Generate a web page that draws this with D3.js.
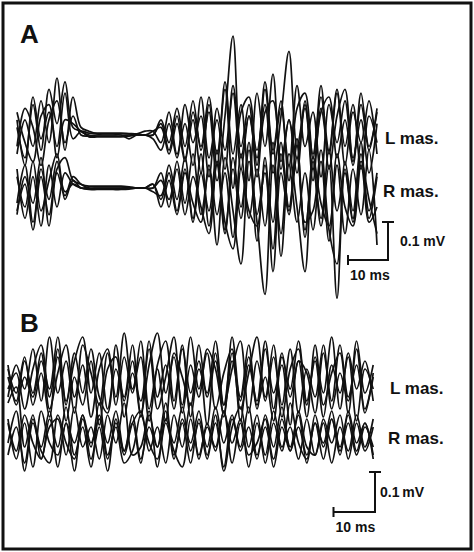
<!DOCTYPE html>
<html><head><meta charset="utf-8">
<script src="https://cdn.jsdelivr.net/npm/d3@7"></script>
<style>body{margin:0;background:#fff}text{font-family:"Liberation Sans",Arial,sans-serif;font-weight:bold;fill:#111}</style>
</head><body><svg id="c" width="474" height="552"></svg>
<script>
// values in 0.01 mV, sampled every 2 ms
const stepMs = 2;
const aL1=[2,-6,8,-4,12,3,14,2,1,-0.5,-0.5,-0.5,-0.5,-0.5,-0.3,0,0,0,3,-4,5,-6,4,-10,8,-5,12,-14,6,10,-8,14,-4,9,-12,7,11,-6,13,-9,5,12,-7,8,-3,6];
const aL2=[-5,4,-3,9,-2,15,-4,10,2,1,0.3,0.3,0.3,0.3,0.3,0.3,1,1,-2,6,-5,3,-8,10,-6,4,-9,13,-3,8,-11,6,9,-7,4,-10,8,-5,10,-4,12,-8,6,-2,9,-5];
const aL3=[6,-2,-7,5,8,-6,4,3,1,0,0,0,0,0,-1,0,0,0,4,-2,7,-3,9,-4,6,-12,5,26,-6,5,-4,8,-10,5,22,-3,7,-9,6,10,-6,4,-8,11,-4,7];
const aL4=[-3,7,2,-8,4,9,-2,5,0,-0.3,-0.3,-0.3,-0.3,-0.3,0,0,0,-1,-4,3,-6,8,-2,5,-11,7,-4,11,-9,5,-6,12,-5,7,-8,13,-3,6,-11,8,-2,9,-6,4,-10,3];
const aL5=[4,-8,10,-1,6,-3,11,-1,1,0.5,0.5,0.5,0.5,0.5,0.4,0.3,0,1,2,-5,3,-7,6,-3,10,-8,14,-5,8,-12,11,-3,16,-9,4,-6,9,-12,7,-5,11,-3,8,-9,5,-2];
const aR1=[-4,6,-9,3,-7,5,8,2,1,0.5,0.5,0.5,0.5,0.5,0.3,0,0,1,-3,4,-6,5,-8,9,-10,6,-12,8,-5,10,-14,6,-9,12,-6,8,-11,5,-8,10,-6,4,-9,7,-3,-12];
const aR2=[5,-8,3,-10,6,-5,4,1,0,-0.4,-0.4,-0.4,-0.4,-0.4,-0.3,0,0,0,4,-5,7,-4,9,-7,5,-15,8,-6,-20,7,-9,-28,6,-12,9,-5,-22,7,-10,6,-29,5,-8,9,-6,4];
const aR3=[-7,3,-4,8,-10,4,-2,3,1,0,0,0,0,0,0,0,0,-1,-2,6,-3,8,-9,4,-6,10,-11,5,-8,12,-7,4,-16,9,-5,11,-13,8,-4,-10,6,-12,5,-7,10,-15];
const aR4=[3,-5,7,-6,2,9,-3,2,0,0.3,0.3,0.3,0.3,0.3,0.2,0,0,1,-5,2,-7,4,-4,-9,6,-7,4,-13,9,-8,5,-10,12,-18,6,-9,4,-11,7,-14,9,-5,-10,6,-8,3];
const aR5=[-6,1,-11,5,-3,7,-1,1,0,-0.2,-0.2,-0.2,-0.2,-0.2,0,0,0,0,2,-3,5,-7,3,-5,-12,7,-9,-16,5,-6,-10,8,-22,4,-7,13,-9,-6,10,-11,-20,7,-6,12,-9,-5];
const bL1=[2,-4,6,-2,8,-6,3,10,-3,5,-8,4,9,-5,7,-2,11,-6,4,-9,8,2,-5,10,-3,6,-8,12,-4,7,-6,9,-2,5,-10,6,3,-7,8,-4,10,-3,5,-6,2];
const bL2=[-3,5,-1,9,-4,12,-2,6,-7,10,3,-5,8,-3,13,-1,7,-9,5,11,-4,9,-2,6,-10,8,-5,4,11,-7,6,-3,10,-8,4,9,-5,7,-2,12,-6,8,-1,6,-4];
const bL3=[4,-2,7,-5,3,-8,9,-4,6,12,-2,8,-6,4,-3,10,-7,5,13,-2,7,-5,12,-1,8,-6,3,9,-9,5,-4,11,-6,8,-3,6,-8,10,-5,3,8,-7,11,-2,5];
const bL4=[-1,3,-6,4,10,-3,7,-9,2,-5,6,-10,4,7,-8,3,-4,9,-6,2,12,-7,5,-3,9,4,-7,6,-3,10,-5,2,-9,7,-1,11,-4,6,-8,5,-2,7,-9,4,-1];
const bL5=[5,-5,2,-3,6,-1,12,-5,8,-2,9,-3,-7,10,-4,6,-8,11,-3,5,-6,10,-8,4,-2,11,-5,8,-6,3,12,-4,7,-5,9,-7,4,-3,10,-6,3,-4,9,-7,3];
const bR1=[3,-4,5,-2,-6,4,-3,7,-5,2,-8,5,-2,6,-4,3,-7,5,-3,8,-6,4,-2,6,-5,3,-8,4,-3,7,-5,2,-6,4,-3,5,-7,3,-2,6,-4,3,-5,2,-3];
const bR2=[-5,2,-7,4,-3,6,-8,3,-2,5,-6,2,-9,4,-5,3,6,-4,2,-7,5,-3,8,-6,3,-4,6,-2,4,-8,3,-5,6,-3,2,-6,4,-5,3,-7,2,-4,5,-3,4];
const bR3=[8,12,-3,5,-6,2,4,-5,7,-3,2,-6,5,-2,8,-5,-3,6,-8,4,-2,7,-4,3,-6,5,-9,2,7,-3,5,-7,3,-4,8,-2,-6,5,-3,4,-5,6,-2,3,-6];
const bR4=[-2,6,-9,3,-4,-7,5,-2,-6,4,-3,8,-5,2,-7,-4,5,-2,-6,3,-4,-8,4,-5,2,-3,6,-7,3,-5,-2,4,-8,2,-4,6,-3,-5,4,-2,5,-6,3,-4,2];
const bR5=[4,-6,3,-8,6,-2,-5,3,-9,5,-2,4,-6,3,-4,5,-6,2,-3,6,-5,3,-7,4,-3,7,-2,5,-4,2,-6,5,-3,7,-4,2,-5,3,-6,4,-3,5,-4,3,-5];
const channelLabels=["L mas.","R mas."];
const svg=d3.select("#c");
svg.append("rect").attr("x",3).attr("y",3).attr("width",468).attr("height",546).attr("fill","none").attr("stroke","#111").attr("stroke-width",3);
function panel(cfg){
  const x=d3.scaleLinear([0,90],[cfg.x0,cfg.x0+90*cfg.pxMs]);
  const line=(base)=>{const y=d3.scaleLinear([0,1],[base,base-cfg.pxU]);
    return d3.line().x((d,i)=>x(i*stepMs)).y(d=>y(d)).curve(d3.curveCatmullRom);};
  [[cfg.L,cfg.yL],[cfg.R,cfg.yR]].forEach(([set,base])=>{
    const ln=line(base);
    set.forEach(s=>svg.append("path").attr("d",ln(s)).attr("fill","none").attr("stroke","#111").attr("stroke-width",1.7));
  });
  svg.append("text").attr("x",cfg.lx).attr("y",cfg.yL+9).attr("font-size",17).text(channelLabels[0]);
  svg.append("text").attr("x",cfg.lx-2).attr("y",cfg.yR+9).attr("font-size",17).text(channelLabels[1]);
  svg.append("text").attr("x",20).attr("y",cfg.tY).attr("font-size",26).attr("font-weight",900).text(cfg.title);
  const bx=cfg.sbX, by=cfg.sbY, bw=10*cfg.pxMs, bh=10*cfg.pxU;
  const g=svg.append("g").attr("stroke","#111").attr("stroke-width",2).attr("fill","none");
  g.append("path").attr("d",`M${bx-bw},${by-5}V${by+5}M${bx-bw},${by}H${bx}V${by-bh}M${bx-6},${by-bh}H${bx+6}`);
  svg.append("text").attr("x",bx+cfg.mvDx).attr("y",by-bh/2+5).attr("font-size",14).text(cfg.mv);
  svg.append("text").attr("x",bx-bw+2).attr("y",by+20).attr("font-size",14).text("10 ms");
}
panel({title:"A",tY:43,x0:17,pxMs:4,pxU:3.8,yL:135,yR:188,L:[aL1,aL2,aL3,aL4,aL5],R:[aR1,aR2,aR3,aR4,aR5],lx:385,sbX:388,sbY:260,mvDx:12,mv:"0.1 mV"});
panel({title:"B",tY:332,x0:8,pxMs:4.15,pxU:4,yL:385,yR:435,L:[bL1,bL2,bL3,bL4,bL5],R:[bR1,bR2,bR3,bR4,bR5],lx:390,sbX:375,sbY:512,mvDx:5,mv:"0.1\u2009mV"});
</script></body></html>
